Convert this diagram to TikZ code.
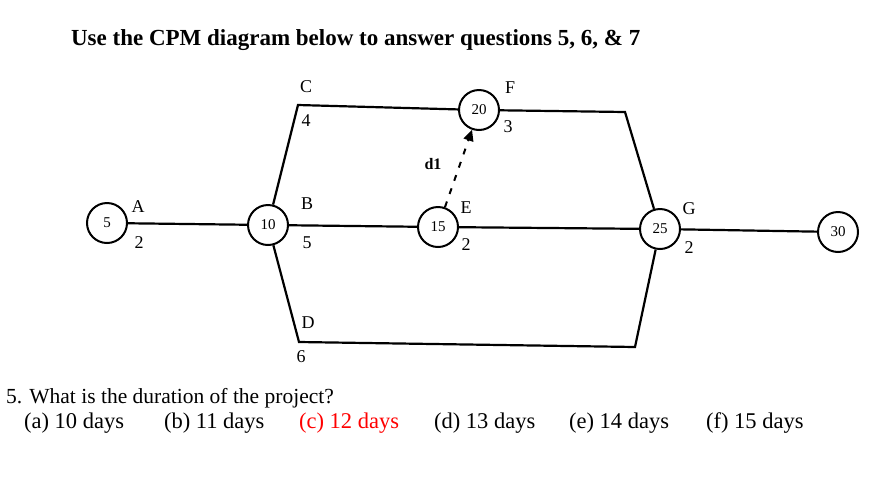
\documentclass[tikz,border=0pt]{standalone}
\usepackage{fontspec}
\setmainfont{Liberation Serif}
\usetikzlibrary{arrows.meta}

\begin{document}
\begin{tikzpicture}[x=1pt,y=-1pt,line width=2.2pt,
  event/.style={circle,draw,line width=2pt,minimum size=40pt,inner sep=0pt,
    font=\fontsize{15}{15}\selectfont},
  act/.style={font=\fontsize{18}{18}\selectfont,inner sep=0pt},
  answer/.style={anchor=base west,font=\fontsize{22.5}{24}\selectfont,inner sep=0pt}]
\useasboundingbox (0,0) rectangle (885,483);
% Title
\node[anchor=base west,inner sep=0pt,font=\bfseries\fontsize{23}{26}\selectfont] (title)
  at (70,45) {Use the CPM diagram below to answer questions 5, 6, \& 7};
% Draw events
\node[event] (e5) at (107,223) {5};
\node[event] (e10) at (268,225) {10};
\node[event] (e15) at (438,227) {15};
\node[event] (e20) at (479,110) {20};
\node[event] (e25) at (660,229) {25};
\node[event] (e30) at (838,232) {30};
% Draw activities
\draw (e5) -- (e10);
\draw (e10) -- (298,105) coordinate (cC) -- (e20);
\draw (e10) -- (e15);
\draw (e10) -- (299,342) coordinate (cD1) -- (635,347) coordinate (cD2) -- (e25);
\draw (e15) -- (e25);
\draw (e20) -- (625,112) coordinate (cF) -- (e25);
\draw (e25) -- (e30);
% Dummy activity
\draw[line width=2pt,dash pattern=on 6pt off 8pt,-{Triangle[length=11pt,width=10pt]}]
  (e15) -- (e20);
% Activity labels
\node[act] (lA) at (138,207) {A};
\node[act] (tA) at (139,243) {2};
\node[act] (lB) at (307,204) {B};
\node[act] (tB) at (307,243) {5};
\node[act] (lC) at (306,87) {C};
\node[act] (tC) at (306,121) {4};
\node[act] (lD) at (308,323) {D};
\node[act] (tD) at (301,357) {6};
\node[act] (lE) at (466,208) {E};
\node[act] (tE) at (466,245) {2};
\node[act] (lF) at (510,88) {F};
\node[act] (tF) at (508,127) {3};
\node[act] (lG) at (689,209) {G};
\node[act] (tG) at (689,248) {2};
\node[act,font=\bfseries\fontsize{16}{16}\selectfont] (ld1) at (433,164) {d1};
% Question
\node[answer,font=\fontsize{21.5}{24}\selectfont] (q5) at (5,403) {5. What is the duration of the project?};
\node[answer] (qa) at (23,428) {(a) 10 days};
\node[answer] (qb) at (163,428) {(b) 11 days};
\node[answer,text=red] (qc) at (298,428) {(c) 12 days};
\node[answer] (qd) at (433,428) {(d) 13 days};
\node[answer] (qe) at (568,428) {(e) 14 days};
\node[answer] (qf) at (705,428) {(f) 15 days};
\end{tikzpicture}
\end{document}
